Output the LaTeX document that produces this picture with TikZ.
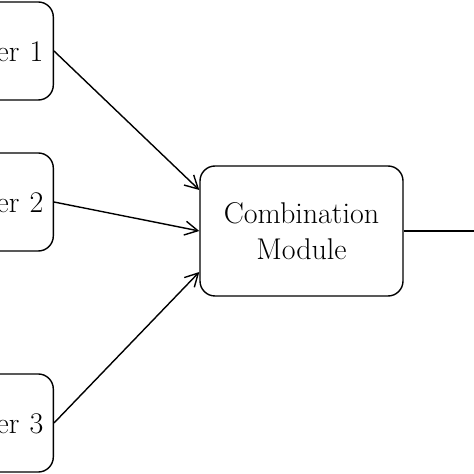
\documentclass[tikz,border=0pt]{standalone}
\usepackage{tikz}
\usetikzlibrary{arrows.meta,positioning}

\begin{document}
\begin{tikzpicture}[x=1pt, y=1pt, line width=1.4pt,
    block/.style={draw, rounded corners=15pt, font=\fontsize{30}{36}\selectfont},
    learner/.style={block, text width=160pt, align=right, inner xsep=10pt,
      minimum height=98pt, anchor=east},
    link/.style={-{Straight Barb[length=13pt, width=14pt, line width=1.4pt]}}]

  % ───────── Frame (474 x 474) ─────────
  \useasboundingbox (0, 0) rectangle (474, 474);

  % ───────── Learners (cut off at the left edge) ─────────
  \node[learner] (learner1) at (54, 423) {Learner 1};
  \node[learner] (learner2) at (54, 272) {Learner 2};
  \node[learner] (learner3) at (54, 51)  {Learner 3};

  % ───────── Combination module ─────────
  \node[block, minimum width=203pt, minimum height=130pt, align=center]
    (comb) at (301.5, 243) {Combination\\Module};

  % ───────── Connectors ─────────
  \draw[link] (learner1.east) -- ([yshift=41pt]comb.west);
  \draw[link] (learner2.east) -- (comb.west);
  \draw[link] (learner3.east) -- ([yshift=-41pt]comb.west);

  % output line runs off the right edge
  \coordinate (output) at (476, 243);
  \draw (comb.east) -- (output);

\end{tikzpicture}
\end{document}
